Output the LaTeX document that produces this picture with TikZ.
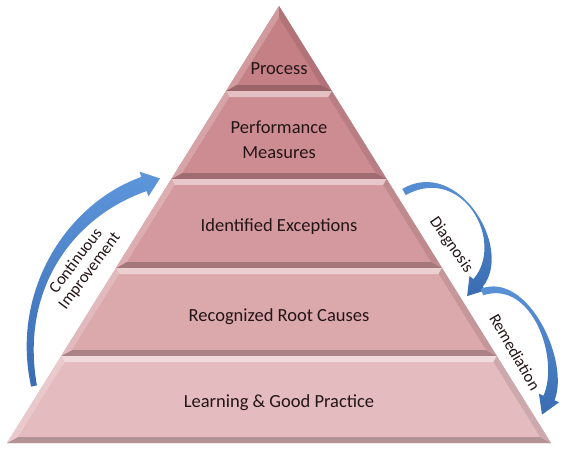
\documentclass[tikz,border=0pt]{standalone}
\usepackage{fontspec}
\setmainfont{Carlito}
\definecolor{cA}{HTML}{C58085}
\definecolor{cB}{HTML}{CC8C91}
\definecolor{cC}{HTML}{D3999E}
\definecolor{cD}{HTML}{DBA8AC}
\definecolor{cE}{HTML}{E4BBBF}
\definecolor{txt}{HTML}{241517}
\definecolor{blA}{HTML}{5E96DB}
\definecolor{blB}{HTML}{3A6CB2}
\newcommand\pyrlayer[3]{%
  \pgfmathsetmacro\pya{#1}\pgfmathsetmacro\pyb{#2}%
  \pgfmathsetmacro\pbv{6}%
  \pgfmathsetmacro\pyai{\pya+\pbv}\pgfmathsetmacro\pybi{\pyb-\pbv}%
  \pgfmathsetmacro\pxla{279-0.6224*(\pya-6)}%
  \pgfmathsetmacro\pxlb{279-0.6224*(\pyb-6)}%
  \pgfmathsetmacro\pxlai{279-0.6224*(\pyai-6)+1.178*\pbv}%
  \pgfmathsetmacro\pxlbi{279-0.6224*(\pybi-6)+1.178*\pbv}%
  \fill[#3] (\pxla,\pya) -- (558-\pxla,\pya) -- (558-\pxlb,\pyb) -- (\pxlb,\pyb) -- cycle;
  \fill[#3!55!white] (\pxla,\pya) -- (558-\pxla,\pya) -- (558-\pxlai,\pyai) -- (\pxlai,\pyai) -- cycle;
  \fill[#3!78!black] (\pxlb,\pyb) -- (558-\pxlb,\pyb) -- (558-\pxlbi,\pybi) -- (\pxlbi,\pybi) -- cycle;
  \fill[#3!80!white] (\pxla,\pya) -- (\pxlai,\pyai) -- (\pxlbi,\pybi) -- (\pxlb,\pyb) -- cycle;
  \fill[#3!90!black] (558-\pxla,\pya) -- (558-\pxlai,\pyai) -- (558-\pxlbi,\pybi) -- (558-\pxlb,\pyb) -- cycle;
}
\begin{document}
\begin{tikzpicture}[x=1pt,y=-1pt,
  lbl/.style={font=\fontsize{18.5}{25}\selectfont, text=txt, inner sep=0pt, align=center},
  side/.style={font=\fontsize{16.5}{17}\selectfont, text=txt, inner sep=0pt, align=center},
  arrowshade/.style={top color=blA, bottom color=blB}]
\useasboundingbox (0,0) rectangle (566,451);
\fill[white] (0,0) rectangle (566,451);
% apex layer
\pgfmathsetmacro\apb{91}
\pgfmathsetmacro\apxl{279-0.6224*(\apb-6)}
\pgfmathsetmacro\apxli{279-0.6224*(\apb-6-6)+1.178*6}
\fill[cA] (279,6) -- (558-\apxl,\apb) -- (\apxl,\apb) -- cycle;
\fill[cA!80!white] (279,6) -- (279,17.4) -- (\apxli,\apb-6) -- (\apxl,\apb) -- cycle;
\fill[cA!90!black] (279,6) -- (279,17.4) -- (558-\apxli,\apb-6) -- (558-\apxl,\apb) -- cycle;
\fill[cA!78!black] (\apxl,\apb) -- (558-\apxl,\apb) -- (558-\apxli,\apb-6) -- (\apxli,\apb-6) -- cycle;
\pyrlayer{91}{179}{cB}
\pyrlayer{179}{268}{cC}
\pyrlayer{268}{356}{cD}
\pyrlayer{356}{443}{cE}
% texts
\node[lbl] (process) at (279,69) {Process};
\node[lbl] (perf) at (279,140) {Performance\\Measures};
\node[lbl] (ident) at (279,227) {Identified Exceptions};
\node[lbl] (recog) at (279,317) {Recognized Root Causes};
\node[lbl] (learn) at (279,403) {Learning \& Good Practice};
% arrows
\shade[arrowshade] (31.1,386.6) .. controls (10.1,290.8) and (67,203.4) .. (141.4,176.9)
  -- (139.5,171.7) -- (160,178.4) -- (148.5,196.3) -- (146.6,191.1)
  .. controls (73,216.6) and (19.9,289.2) .. (36.9,385.4) -- cycle;
\shade[arrowshade] (402.25,188.95) .. controls (457.75,156.1) and (514.2,248.5) .. (482.6,286.85)
  -- (486.5,290) -- (467.1,296.1) -- (469.5,276) -- (473.4,279.15)
  .. controls (505.8,241.5) and (462.25,163.9) .. (405.75,195.05) -- cycle;
\shade[arrowshade] (480.84,288.71) .. controls (528.5,270.8) and (570.1,362.2) .. (554.5,400.3)
  -- (559.1,402.3) -- (542,414.6) -- (538.9,393.7) -- (543.5,395.7)
  .. controls (559.9,357.9) and (531.5,279.2) .. (483.16,295.29) -- cycle;
% side labels
\node[side, rotate=53] (ci) at (83,266) {Continuous\\Improvement};
\node[side, rotate=-55] (diag) at (451,245) {Diagnosis};
\node[side, rotate=-60] (rem) at (515,352) {Remediation};
\end{tikzpicture}
\end{document}
